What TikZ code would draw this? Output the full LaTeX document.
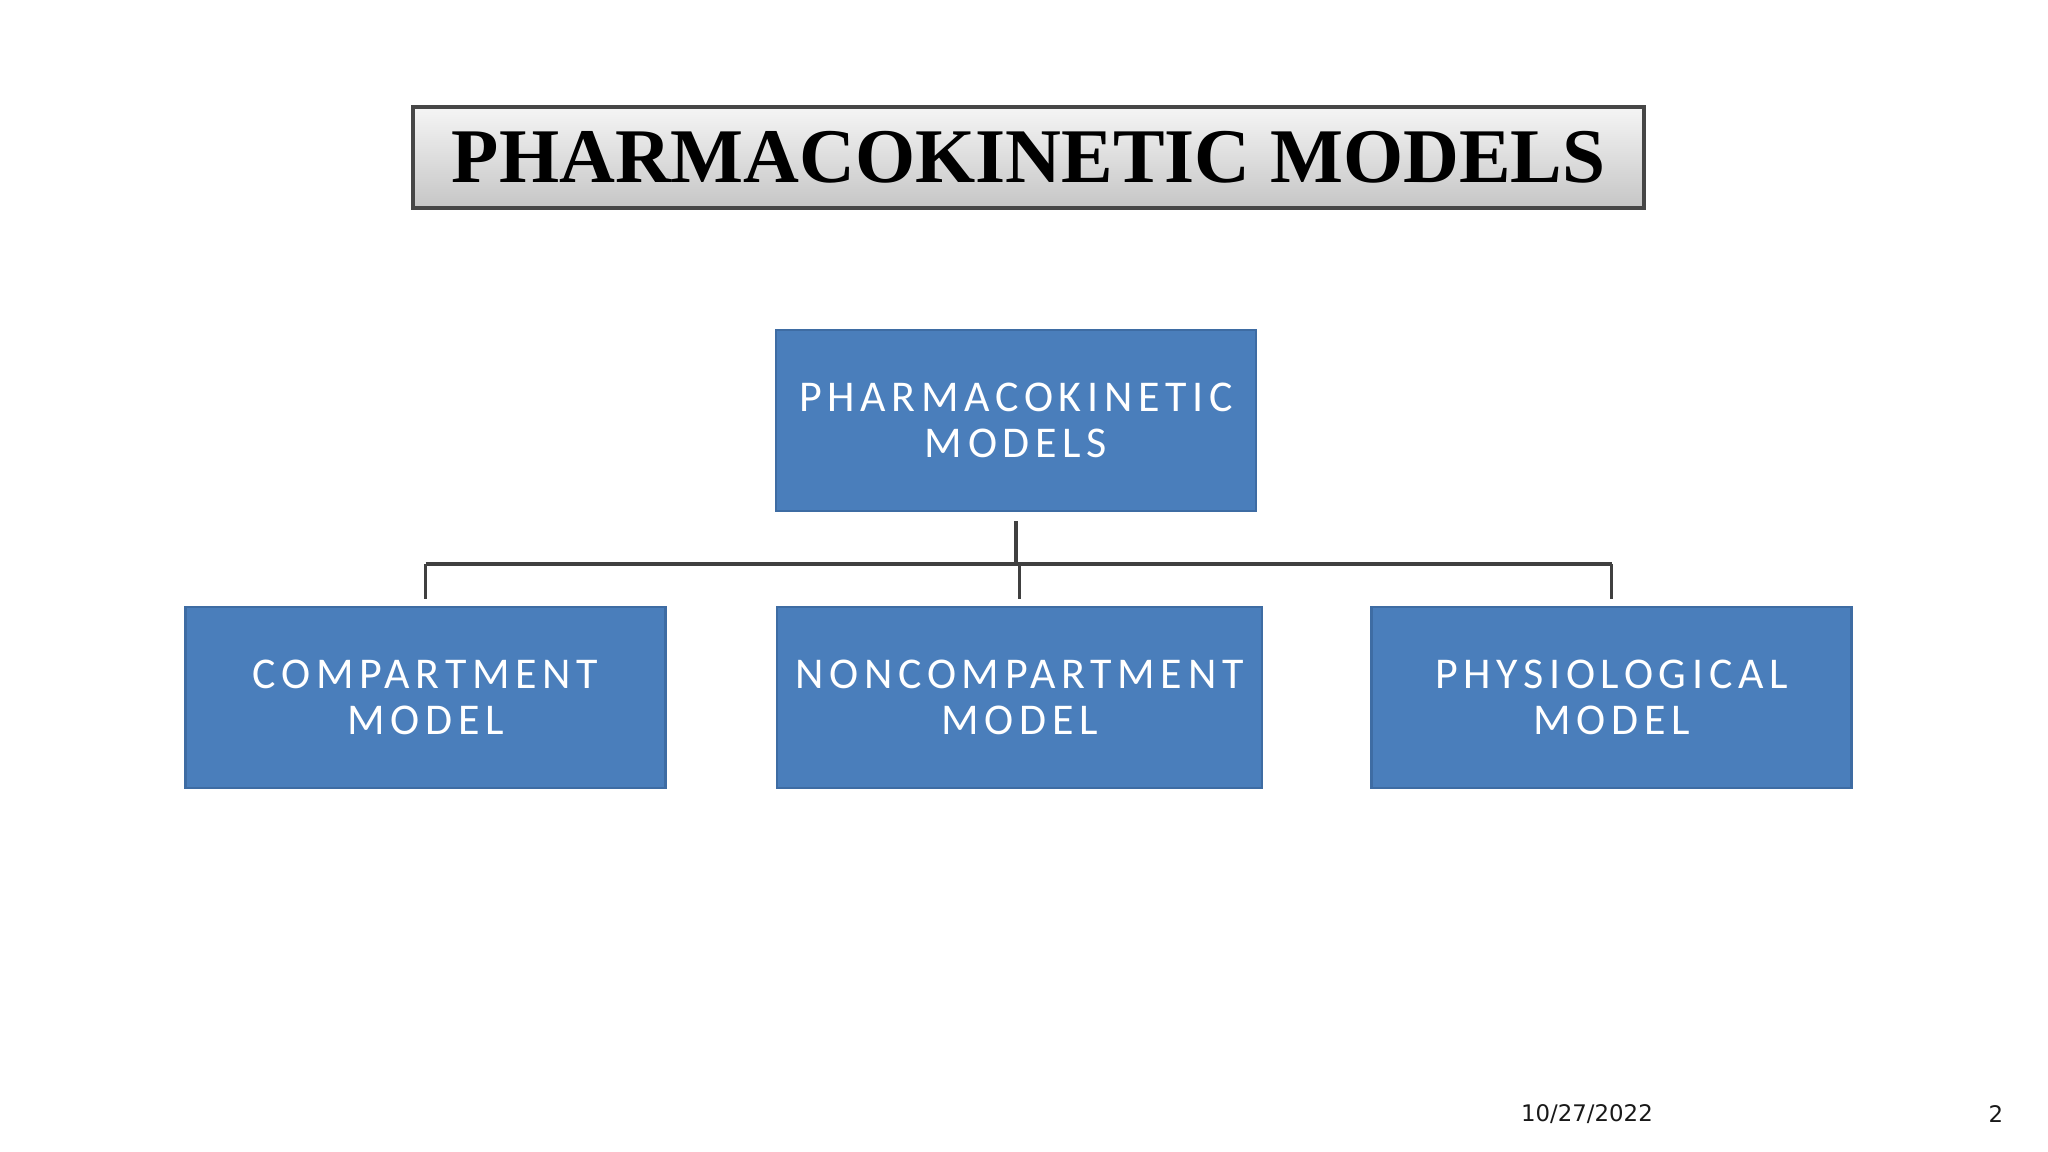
\documentclass[tikz,border=0pt]{standalone}
\usepackage{fontspec}
\setmainfont{Liberation Serif}
\newfontfamily\boxfont[LetterSpace=13]{Carlito}
\newfontfamily\footfont{DejaVu Sans}
\usetikzlibrary{calc}
\definecolor{boxblue}{RGB}{74,126,187}
\definecolor{boxedge}{RGB}{62,108,163}
\definecolor{linegray}{RGB}{64,64,64}

\begin{document}
\begin{tikzpicture}[
  model/.style={draw=boxedge, fill=boxblue, line width=.6pt, minimum width=4.8cm, minimum height=1.81cm,
    text=white, align=center, inner sep=0pt, font=\boxfont\fontsize{12.5}{13}\selectfont},
  link/.style={draw=linegray, line width=1.1pt},
  foot/.style={font=\footfont\fontsize{6.5}{8}\selectfont, text=black!90}]
\useasboundingbox (0,0) rectangle (20.48,11.52);

\node[draw=gray!55!black, line width=1.3pt, top color=gray!8, bottom color=gray!45,
  minimum width=12.31cm, minimum height=1.01cm, font=\bfseries\fontsize{22}{24}\selectfont]
  (title) at (10.285,9.945) {PHARMACOKINETIC MODELS};

\node[model] (pk) at (10.16,7.315) {PHARMACOKINETIC\\MODELS};
\node[model] (comp) at (4.255,4.545) {COMPARTMENT\\MODEL};
\node[model, minimum width=4.85cm] (noncomp) at (10.195,4.545) {NONCOMPARTMENT\\MODEL};
\node[model] (phys) at (16.115,4.545) {PHYSIOLOGICAL\\MODEL};

% tree connectors
\coordinate (bus) at (0,5.88);
\draw[link] ($(pk.south)+(0,-.09)$) -- (pk.south |- bus);
\draw[link] (comp.north |- bus) -- (phys.north |- bus);
\foreach \n in {comp, noncomp, phys}
  \draw[link] (\n.north |- bus) -- ($(\n.north)+(0,.07)$);

\node[foot] (date) at (15.87,0.38) {10/27/2022};
\node[foot] (page) at (19.96,0.38) {2};
\end{tikzpicture}
\end{document}
